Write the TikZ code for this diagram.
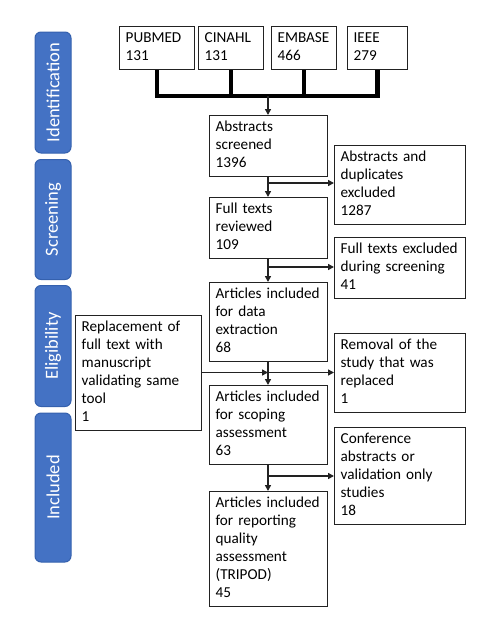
\documentclass[tikz,border=0pt]{standalone}
\usepackage{fontspec}
\setmainfont{Carlito}
\usetikzlibrary{arrows.meta,calc}
\definecolor{phasefill}{HTML}{4472C4}
\definecolor{phaseline}{HTML}{3561AE}
\definecolor{boxline}{HTML}{222222}
\tikzset{
  box/.style={draw=boxline, line width=1.3pt, anchor=north west, align=left,
    inner xsep=6pt, inner ysep=3.5pt, font=\fontsize{15.2}{18}\selectfont,
    execute at begin node=\strut, execute at end node=\strut},
  mainbox/.style={box, text width=106pt},
  sidebox/.style={box, text width=119pt},
  phase/.style={rotate=90, fill=phasefill, draw=phaseline, line width=1pt,
    rounded corners=6pt, text=white, minimum height=36pt, inner sep=0pt,
    font=\fontsize{18.5}{20}\selectfont},
  arr/.style={draw=boxline, line width=1.8pt,
    -{Triangle[length=6pt,width=6pt]}},
  bar/.style={draw=black, line width=4.5pt, line join=miter},
}
\begin{document}
\begin{tikzpicture}[x=1pt,y=-1pt]
  \useasboundingbox (0,0) rectangle (500,633);

  % phases
  \node[phase, minimum width=121pt] (ident) at (53,92.5) {Identification};
  \node[phase, minimum width=120pt] (screen) at (53,219.5) {Screening};
  \node[phase, minimum width=121pt] (elig) at (53,346) {Eligibility};
  \node[phase, minimum width=149pt] (incl) at (53,487.5) {Included};

  % sources
  \node[box, text width=63pt] (pubmed) at (119,26) {PUBMED\\131};
  \node[box, text width=53pt] (cinahl) at (198,26) {CINAHL\\131};
  \node[box, text width=53pt] (embase) at (271,26) {EMBASE\\466};
  \node[box, text width=48pt] (ieee) at (347,26) {IEEE\\279};

  % main flow
  \node[mainbox] (screened) at (209,115) {Abstracts\\screened\\1396};
  \node[mainbox] (fulltext) at (209,197) {Full texts\\reviewed\\109};
  \node[mainbox] (extract) at (209,282) {Articles included\\for data\\extraction\\68};
  \node[mainbox] (scoping) at (209,385) {Articles included\\for scoping\\assessment\\63};
  \node[mainbox] (tripod) at (209,491) {Articles included\\for reporting\\quality\\assessment\\(TRIPOD)\\45};

  % exclusions
  \node[sidebox] (dupl) at (334,145) {Abstracts and\\duplicates\\excluded\\1287};
  \node[sidebox] (ftexcl) at (334,237) {Full texts excluded\\during screening\\41};
  \node[sidebox] (removal) at (334,333) {Removal of the\\study that was\\replaced\\1};
  \node[sidebox] (confabs) at (334,427) {Conference\\abstracts or\\validation only\\studies\\18};
  \node[box, text width=114pt] (replace) at (75,315) {Replacement of\\full text with\\manuscript\\validating same\\tool\\1};

  % merging the sources
  \coordinate (join) at (268,96);
  \draw[bar] (pubmed.south) -- (pubmed.south |- join) -- (ieee.south |- join) -- (ieee.south);
  \draw[bar] (cinahl.south) -- (cinahl.south |- join);
  \draw[bar] (embase.south) -- (embase.south |- join);
  \draw[arr] (join) -- (join |- screened.north);

  % branches
  \coordinate (b1) at (268,183);
  \coordinate (b2) at (268,267);
  \coordinate (b3) at (268,372.5);
  \coordinate (b4) at (268,476);
  \draw[arr] (screened.south -| b1) -- (fulltext.north -| b1);
  \draw[arr] (b1) -- (b1 -| dupl.west);
  \draw[arr] (fulltext.south -| b2) -- (extract.north -| b2);
  \draw[arr] (b2) -- (b2 -| ftexcl.west);
  \draw[arr] (extract.south -| b3) -- (scoping.north -| b3);
  \draw[arr] (b3) -- (b3 -| removal.west);
  \draw[arr] (replace.east |- b3) -- (b3);
  \draw[arr] (scoping.south -| b4) -- (tripod.north -| b4);
  \draw[arr] (b4) -- (b4 -| confabs.west);
\end{tikzpicture}
\end{document}
